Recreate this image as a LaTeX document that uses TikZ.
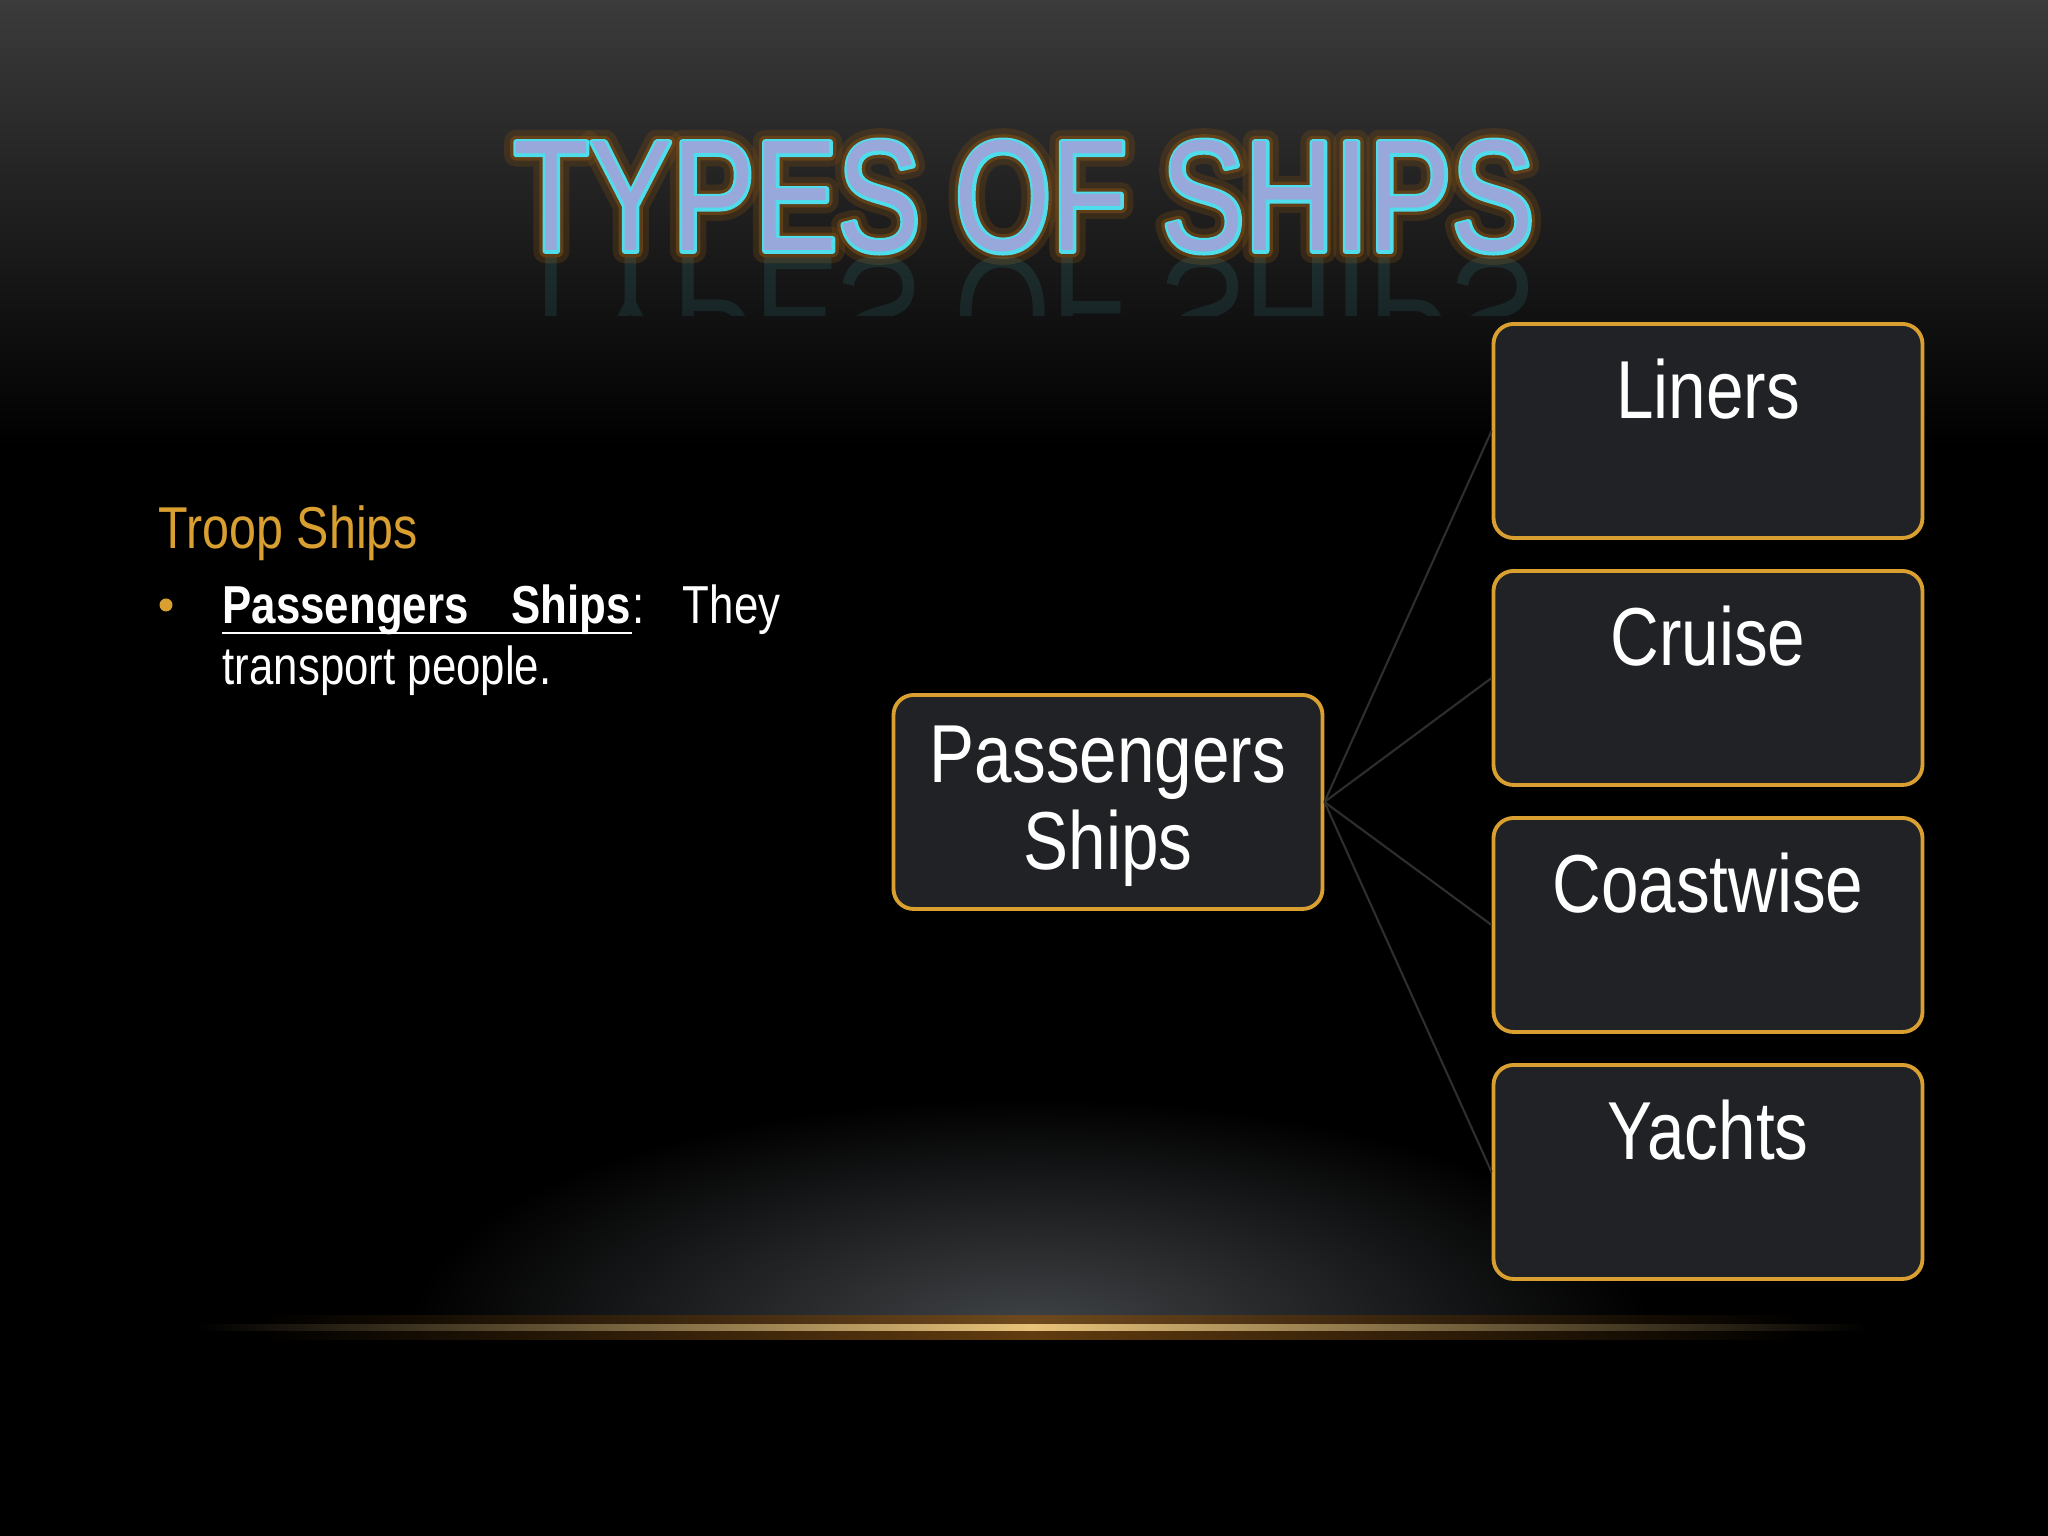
\documentclass[tikz,border=0pt]{standalone}
\usepackage{fontspec}
\setmainfont{Liberation Sans}[FakeStretch=0.82]
\newfontfamily\titlefont{Liberation Sans}[FakeStretch=0.785]
\newcommand\outlinetext[2]{\special{pdf:literal direct 1 Tr #1 w 1 j}#2\special{pdf:literal direct 0 Tr}}
\definecolor{shipgold}{HTML}{D9A031}
\definecolor{boxfill}{HTML}{202225}
\definecolor{linkgray}{HTML}{2E2E2E}
\definecolor{titlefill}{HTML}{98A8DA}
\definecolor{titleedge}{HTML}{4FDDEB}
\definecolor{titleglow}{HTML}{7A4B14}
\definecolor{topgray}{HTML}{3B3B3B}
\definecolor{spotgray}{HTML}{404346}
\definecolor{linegold}{HTML}{E8C27A}
\begin{document}
\begin{tikzpicture}[
    shipbox/.style={draw=shipgold, line width=1.1pt, fill=boxfill, rounded corners=0.2cm,
        minimum width=4.29cm, minimum height=2.14cm, inner sep=0pt, text=white,
        align=center, font=\fontsize{23.4}{25}\selectfont},
    toptext/.style={text height=0.6cm, text depth=0.84cm},
    link/.style={draw=linkgray, line width=0.6pt},
    titletext/.style={anchor=base, inner sep=0pt, font=\titlefont\fontsize{45}{50}\selectfont},
    bodytext/.style={anchor=base west, inner sep=0pt, text=white, font=\fontsize{15.2}{18}\selectfont},
    bodybold/.style={bodytext, font=\fontsize{15.2}{18}\selectfont\bfseries}]
    \useasboundingbox (0,0) rectangle (20.48,15.36);
    \fill[black] (0,0) rectangle (20.48,15.36);
    \shade[top color=topgray, bottom color=black] (0,10.9) rectangle (20.48,15.36);
    % spotlight and floor line
    \begin{scope}
        \clip (0,2.08) rectangle (20.48,5);
        \shade[inner color=spotgray, outer color=black] (10.3,2.08) ellipse (6.2 and 2.3);
    \end{scope}
    \shade[left color=black, right color=black, middle color=titleglow, opacity=0.8] (2.5,1.96) rectangle (18.1,2.2);
    \shade[left color=black, right color=black, middle color=linegold] (1.96,2.05) rectangle (18.68,2.11);
    % title
    \node[titletext, text=titleglow, opacity=0.3] (glow) at (10.24,12.85) {\outlinetext{7}{TYPES OF SHIPS}};
    \node[titletext, text=titleglow, opacity=0.6] (halo) at (10.24,12.85) {\outlinetext{3.6}{TYPES OF SHIPS}};
    \node[titletext, text=titleedge] (edge) at (10.24,12.85) {\outlinetext{1.7}{TYPES OF SHIPS}};
    \node[titletext, text=titlefill] (title) at (10.24,12.85) {TYPES OF SHIPS};
    \begin{scope}
        \clip (0,12.2) rectangle (20.48,12.78);
        \begin{scope}[yshift=12.78cm, yscale=-1]
            \node[titletext, transform shape, text=titleedge, opacity=0.1] (mirror) at (10.24,0) {TYPES OF SHIPS};
        \end{scope}
    \end{scope}
    % left text
    \node[bodytext, text=shipgold, font=\fontsize{16.8}{20}\selectfont] (troop) at (1.58,9.87) {Troop Ships};
    \node[circle, fill=shipgold, inner sep=0pt, minimum size=0.13cm] (dot) at (1.66,9.31) {};
    \node[bodybold] (pass) at (2.22,9.12) {Passengers};
    \node[bodybold] (ships) at (5.11,9.12) {Ships};
    \node[bodytext, anchor=base west] (colon) at (ships.base east) {:};
    \node[bodytext, anchor=base east] (they) at (7.81,9.12) {They};
    \node[bodytext] (people) at (2.22,8.51) {transport people.};
    \draw[white, line width=0.8pt] ([yshift=-0.09cm]pass.base west) -- ([yshift=-0.09cm]ships.base east);
    % hierarchy
    \node[shipbox, text height=1.45cm, text depth=0.09cm] (pship) at (11.08,7.34) {Passengers\\Ships};
    \node[shipbox, toptext] (liners) at (17.08,11.05) {Liners};
    \node[shipbox, toptext] (cruise) at (17.08,8.58) {Cruise};
    \node[shipbox, toptext] (coast) at (17.08,6.11) {Coastwise};
    \node[shipbox, toptext] (yachts) at (17.08,3.64) {Yachts};
    \foreach \b in {liners,cruise,coast,yachts}
        \draw[link] (pship.east) -- (\b.west);
\end{tikzpicture}
\end{document}
